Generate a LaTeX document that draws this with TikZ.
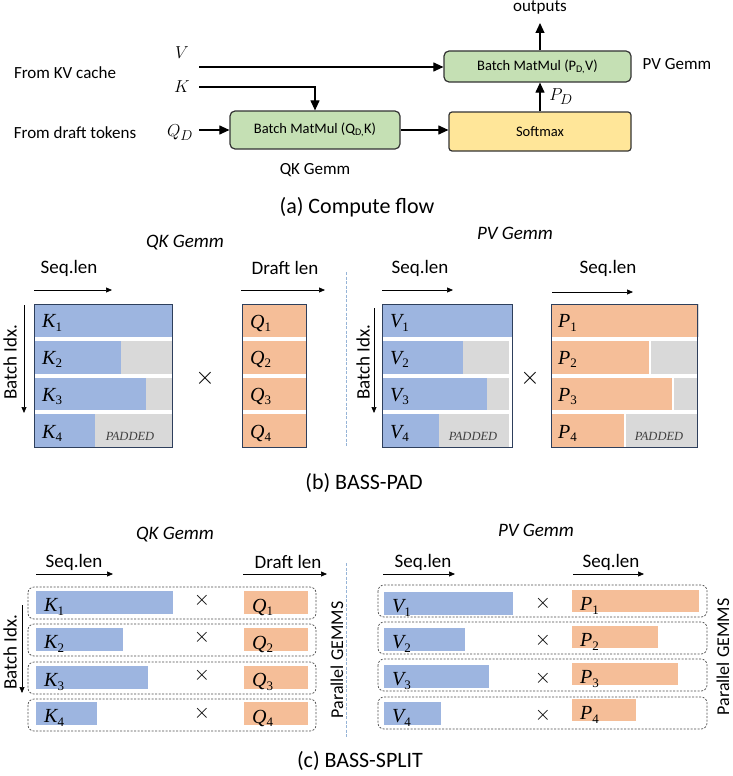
\documentclass[tikz,border=0pt]{standalone}
\usepackage{fontspec}
\setmainfont{Carlito}
\newfontfamily\tms{Liberation Serif}
\usetikzlibrary{arrows.meta}
\definecolor{blueF}{RGB}{157,181,224}
\definecolor{orangeF}{RGB}{245,190,152}
\definecolor{grayF}{RGB}{217,217,217}
\definecolor{greenF}{RGB}{197,224,180}
\definecolor{yellowF}{RGB}{255,230,153}
\definecolor{mborder}{RGB}{46,63,92}
\definecolor{divider}{RGB}{150,180,215}
\newcommand\mlab[2]{{\tms\fontsize{20}{20}\selectfont\itshape #1\raisebox{-0.35ex}{\upshape\fontsize{13}{13}\selectfont #2}}}
\tikzset{
  lbl/.style={font=\fontsize{17}{20}\selectfont, inner sep=0pt},
  axlbl/.style={font=\fontsize{19}{22}\selectfont, inner sep=0pt},
  ttl/.style={font=\fontsize{19}{22}\selectfont\itshape, inner sep=0pt},
  captxt/.style={font=\fontsize{22}{26}\selectfont, inner sep=0pt},
  mathlbl/.style={font=\fontsize{19}{22}\selectfont, inner sep=0pt},
  gbox/.style={draw=black!80, line width=1.2pt, rounded corners=5pt, fill=greenF, font=\fontsize{14.5}{17}\selectfont},
  ybox/.style={draw=black!80, line width=1.2pt, rounded corners=3pt, fill=yellowF, font=\fontsize{14.5}{17}\selectfont},
  bigarr/.style={-{Triangle[length=10pt,width=9pt]}, line width=1.1pt},
  smarr/.style={-{Triangle[length=6pt,width=5pt]}, line width=0.7pt},
  padtxt/.style={font=\tms\itshape\fontsize{12.5}{14}\selectfont, inner sep=0pt, text=black!75},
  mlabel/.style={inner sep=0pt, anchor=west},
  timesx/.style={font=\fontsize{27}{30}\selectfont, inner sep=0pt},
  stimesx/.style={font=\fontsize{21}{22}\selectfont, inner sep=0pt},
  mframe/.style={draw=mborder, line width=0.9pt},
  drow/.style={draw=black!70, dash pattern=on 2pt off 1.5pt, rounded corners=6pt, line width=0.7pt},
  divline/.style={draw=divider, dash pattern=on 3pt off 1.5pt, line width=0.7pt},
}
\begin{document}
\begin{tikzpicture}[x=1pt,y=-1pt]
\useasboundingbox (0,0) rectangle (733,776);

% ---------------- (a) compute flow ----------------
\node[gbox, minimum width=187pt, minimum height=31pt] (pv) at (537.5,66.5) {Batch MatMul (P\textsubscript{D,}V)};
\node[ybox, minimum width=182pt, minimum height=39pt] (sm) at (540,131.5) {Softmax};
\node[gbox, minimum width=170pt, minimum height=38pt] (qk) at (315,130) {Batch MatMul (Q\textsubscript{D,}K)};
\node[lbl, anchor=north] (outputs) at (540,1) {outputs};
\coordinate (outtip) at (540,23);
\draw[bigarr] (pv.north -| outtip) -- (outtip);
\node[mathlbl] (vlab) at (182,53) {$V$};
\node[mathlbl] (klab) at (182,87) {$K$};
\node[mathlbl] (qlab) at (180,133) {$Q_D$};
\node[mathlbl] (plab) at (561,97) {$P_D$};
\coordinate (vs) at (199,67);
\coordinate (ks) at (199,87);
\coordinate (qs) at (199,130);
\draw[bigarr] (vs) -- (vs -| pv.west);
\draw[bigarr] (ks) -| (qk.north);
\draw[bigarr] (qs) -- (qk.west);
\draw[bigarr] (qk.east) -- (qk.east -| sm.west);
\draw[bigarr] (sm.north) -- (sm.north |- pv.south);
\node[lbl] (fkv) at (65,73) {From KV cache};
\node[lbl] (fdt) at (75,133) {From draft tokens};
\node[lbl] (pvg) at (677,64) {PV Gemm};
\node[lbl] (qkg) at (315,170) {QK Gemm};
\node[captxt] (capa) at (357,207) {(a) Compute flow};

% ---------------- (b) BASS-PAD ----------------
\node[ttl] (bqkt) at (185,243) {QK Gemm};
\node[ttl] (bpvt) at (515,233) {PV Gemm};
\node[axlbl] (bsl1) at (69,268) {Seq.len};
\node[axlbl] (bdl) at (285,268) {Draft len};
\node[axlbl] (bsl2) at (420,268) {Seq.len};
\node[axlbl] (bsl3) at (608,268) {Seq.len};
\coordinate (ba1s) at (34,290); \coordinate (ba1e) at (112,290);
\coordinate (ba2s) at (241,290); \coordinate (ba2e) at (325,290);
\coordinate (ba3s) at (382,290); \coordinate (ba3e) at (453,290);
\coordinate (ba4s) at (552,292); \coordinate (ba4e) at (633,292);
\draw[smarr] (ba1s) -- (ba1e);
\draw[smarr] (ba2s) -- (ba2e);
\draw[smarr] (ba3s) -- (ba3e);
\draw[smarr] (ba4s) -- (ba4e);
\node[axlbl, rotate=90] (bbi1) at (10,362) {Batch Idx.};
\node[axlbl, rotate=90] (bbi2) at (363,362) {Batch Idx.};
\coordinate (bb1s) at (24,305); \coordinate (bb1e) at (24,413);
\coordinate (bb2s) at (374,308); \coordinate (bb2e) at (374,413);
\draw[smarr] (bb1s) -- (bb1e);
\draw[smarr] (bb2s) -- (bb2e);
% K matrix
\foreach \i/\e in {1/172,2/121,3/146,4/95}{
  \pgfmathsetmacro{\yt}{304+(\i-1)*36.75}
  \pgfmathsetmacro{\yb}{\yt+32.75}
  \fill[grayF] (\e,\yt) rectangle (172,\yb);
  \fill[blueF] (34,\yt) rectangle (\e,\yb);
  \node[mlabel] (bk\i) at (42,{\yt+19}) {\mlab{K}{\i}};
}
\draw[mframe] (34,304) rectangle (172,447);
% Q matrix
\foreach \i in {1,2,3,4}{
  \pgfmathsetmacro{\yt}{304+(\i-1)*36.75}
  \pgfmathsetmacro{\yb}{\yt+32.75}
  \fill[orangeF] (242,\yt) rectangle (306,\yb);
  \node[mlabel] (bq\i) at (250,{\yt+19}) {\mlab{Q}{\i}};
}
\draw[mframe] (242,304) rectangle (306,447);
% V matrix
\foreach \i/\e in {1/512,2/463,3/487,4/439}{
  \pgfmathsetmacro{\yt}{304+(\i-1)*36.75}
  \pgfmathsetmacro{\yb}{\yt+32.75}
  \fill[grayF] (\e,\yt) rectangle (509,\yb);
  \fill[blueF] (382,\yt) rectangle (\e,\yb);
  \node[mlabel] (bv\i) at (390,{\yt+19}) {\mlab{V}{\i}};
}
\draw[mframe] (382,304) rectangle (512,447);
% P matrix
\foreach \i/\e in {1/697,2/649,3/672,4/624}{
  \pgfmathsetmacro{\yt}{304+(\i-1)*36.75}
  \pgfmathsetmacro{\yb}{\yt+32.75}
  \fill[grayF] (\e+1.5,\yt) rectangle (697,\yb);
  \fill[orangeF] (551,\yt) rectangle (\e,\yb);
  \node[mlabel] (bp\i) at (558,{\yt+19}) {\mlab{P}{\i}};
}
\draw[mframe] (551,304) rectangle (697,447);
\node[padtxt] (pad1) at (130,436) {PADDED};
\node[padtxt] (pad2) at (473,436) {PADDED};
\node[padtxt] (pad3) at (659,436) {PADDED};
\node[timesx] (bx1) at (205,378) {$\times$};
\node[timesx] (bx2) at (530,378) {$\times$};
\coordinate (bdt) at (346,272); \coordinate (bdb) at (346,447);
\draw[divline] (bdt) -- (bdb);
\node[captxt] (capb) at (364,483) {(b) BASS-PAD};

% ---------------- (c) BASS-SPLIT ----------------
\node[ttl] (cqkt) at (175,535) {QK Gemm};
\node[ttl] (cpvt) at (536,530) {PV Gemm};
\node[axlbl] (csl1) at (74,562) {Seq.len};
\node[axlbl] (cdl) at (288,562) {Draft len};
\node[axlbl] (csl2) at (423,562) {Seq.len};
\node[axlbl] (csl3) at (611,562) {Seq.len};
\coordinate (ca1s) at (36,574); \coordinate (ca1e) at (113,574);
\coordinate (ca2s) at (243,574); \coordinate (ca2e) at (327,574);
\coordinate (ca3s) at (383,574); \coordinate (ca3e) at (455,574);
\coordinate (ca4s) at (573,574); \coordinate (ca4e) at (644,574);
\draw[smarr] (ca1s) -- (ca1e);
\draw[smarr] (ca2s) -- (ca2e);
\draw[smarr] (ca3s) -- (ca3e);
\draw[smarr] (ca4s) -- (ca4e);
\node[axlbl, rotate=90] (cbi) at (10,652) {Batch Idx.};
\coordinate (cbs) at (22,605); \coordinate (cbe) at (22,693);
\draw[smarr] (cbs) -- (cbe);
% left rows
\foreach \i/\rt/\bt/\e/\xy in {1/587/591/173/600,2/624/628/123/637,3/662/666/148/675,4/699/702/97/713}{
  \draw[drow] (28,\rt) rectangle (316,\rt+32);
  \fill[blueF] (36,\bt) rectangle (\e,\bt+23);
  \fill[orangeF] (244,\bt) rectangle (308,\bt+23);
  \node[mlabel] (ck\i) at (44,\bt+16) {\mlab{K}{\i}};
  \node[mlabel] (cq\i) at (252,\bt+16) {\mlab{Q}{\i}};
  \node[stimesx] (cx\i) at (202,\xy) {$\times$};
}
% right rows
\foreach \i/\rt/\vt/\ve/\pt/\pe/\xy in {1/585/592/513/590/699/603,2/622/628/465/626/658/640,3/659/665/489/663/678/678,4/697/702/441/699/636/715}{
  \draw[drow] (378,\rt) rectangle (707,\rt+32);
  \fill[blueF] (384,\vt) rectangle (\ve,\vt+22.5);
  \fill[orangeF] (572,\pt) rectangle (\pe,\pt+22);
  \node[mlabel] (cv\i) at (392,\vt+16) {\mlab{V}{\i}};
  \node[mlabel] (cp\i) at (580,\pt+16) {\mlab{P}{\i}};
  \node[stimesx] (cy\i) at (543,\xy) {$\times$};
}
\node[lbl, font=\fontsize{18}{20}\selectfont, rotate=90] (cpg1) at (337,660) {Parallel GEMMS};
\node[lbl, font=\fontsize{18}{20}\selectfont, rotate=90] (cpg2) at (723,657) {Parallel GEMMS};
\coordinate (cdt) at (346,563); \coordinate (cdb) at (346,737);
\draw[divline] (cdt) -- (cdb);
\node[captxt] (capc) at (360,761) {(c) BASS-SPLIT};
\end{tikzpicture}
\end{document}
